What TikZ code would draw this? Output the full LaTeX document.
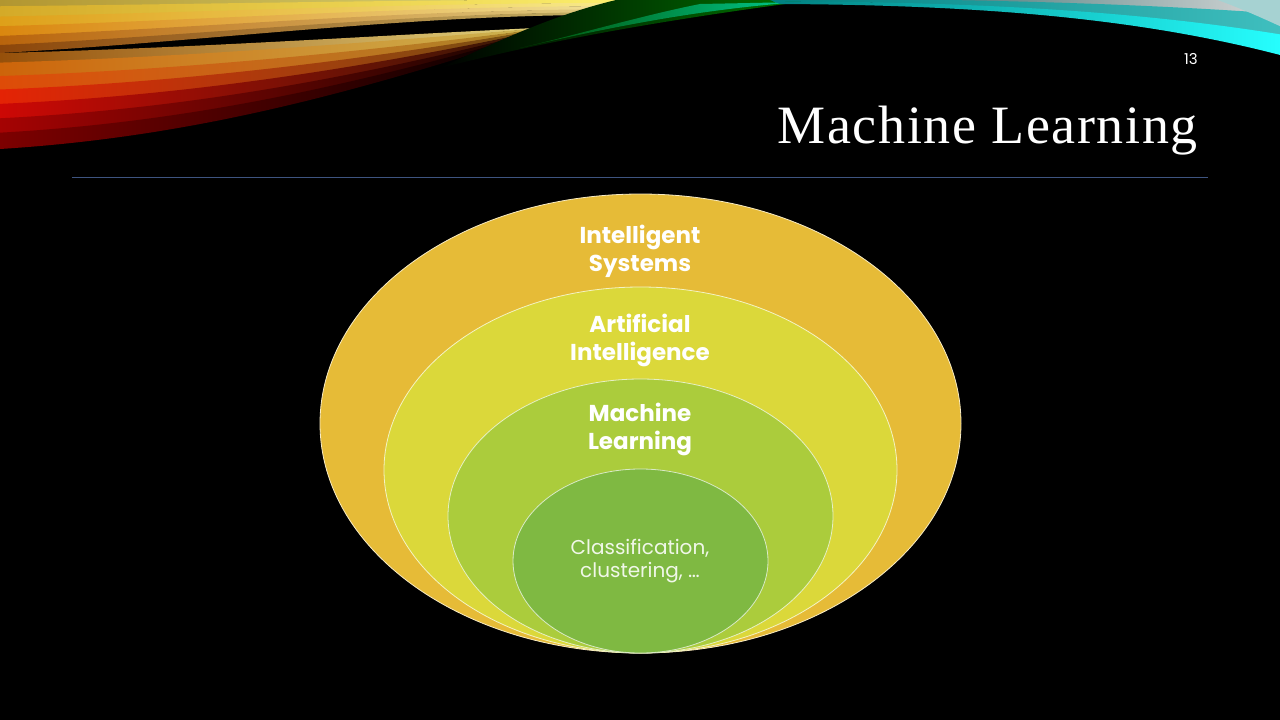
\documentclass[tikz,border=0pt]{standalone}
\usepackage{fontspec}
\usetikzlibrary{calc,shapes.geometric}
\setmainfont{Liberation Serif}
\newfontfamily\labelfont{Poppins}
\newfontfamily\titlefont[LetterSpace=3]{Liberation Serif}
\definecolor{ringA}{RGB}{230,187,55}
\definecolor{ringB}{RGB}{219,216,58}
\definecolor{ringC}{RGB}{171,204,60}
\definecolor{ringD}{RGB}{127,185,66}
\definecolor{ruleblue}{RGB}{62,84,128}
\tikzset{
  ring/.style={ellipse,draw=#1,line width=0.8pt,inner sep=0pt,outer sep=0pt},
  ringlabel/.style={text=white,align=center,font=\labelfont\bfseries\fontsize{23}{28}\selectfont},
  innerlabel/.style={text=white!88!ringD,align=center,font=\labelfont\fontsize{20}{23}\selectfont},
}
% One colour band between two Bezier edges: it is cut into strips, each with a left-to-right shading.
\newcommand{\swoosh}[2]{%
  \foreach \s/\e/\cl/\cm/\cr in {#2}{%
    \shade[left color=\cl,middle color=\cm,right color=\cr]
      ($(#1ta)!\s!(#1ba)$) .. controls ($(#1tb)!\s!(#1bb)$) and ($(#1tc)!\s!(#1bc)$) .. ($(#1td)!\s!(#1bd)$)
      -- ($(#1td)!\e!(#1bd)$) .. controls ($(#1tc)!\e!(#1bc)$) and ($(#1tb)!\e!(#1bb)$) .. ($(#1ta)!\e!(#1ba)$) -- cycle;
  }%
}
\newcommand{\edges}[9]{%
  \coordinate (#1ta) at #2; \coordinate (#1tb) at #3; \coordinate (#1tc) at #4; \coordinate (#1td) at #5;
  \coordinate (#1ba) at #6; \coordinate (#1bb) at #7; \coordinate (#1bc) at #8; \coordinate (#1bd) at #9;
}
\definecolor{oA}{RGB}{178,150,48}\definecolor{oB}{RGB}{212,170,40}\definecolor{oC}{RGB}{222,160,25}\definecolor{oD}{RGB}{218,135,15}\definecolor{oE}{RGB}{185,100,12}\definecolor{oF}{RGB}{140,70,10}
\definecolor{pA}{RGB}{205,190,70}\definecolor{pB}{RGB}{238,215,85}\definecolor{pC}{RGB}{235,195,70}\definecolor{pD}{RGB}{228,170,45}\definecolor{pE}{RGB}{215,145,30}\definecolor{pF}{RGB}{190,120,25}
\definecolor{qA}{RGB}{225,225,130}\definecolor{qB}{RGB}{252,240,110}\definecolor{qC}{RGB}{248,235,140}\definecolor{qD}{RGB}{240,225,150}\definecolor{qE}{RGB}{225,205,130}\definecolor{qF}{RGB}{195,175,100}
\definecolor{rA}{RGB}{150,80,10}\definecolor{rB}{RGB}{205,100,10}\definecolor{rC}{RGB}{222,75,8}\definecolor{rD}{RGB}{228,35,5}\definecolor{rE}{RGB}{205,8,5}\definecolor{rF}{RGB}{165,3,3}\definecolor{rG}{RGB}{125,0,0}
\definecolor{sA}{RGB}{230,140,25}\definecolor{sB}{RGB}{225,120,15}\definecolor{sC}{RGB}{222,85,8}\definecolor{sD}{RGB}{205,45,5}\definecolor{sE}{RGB}{165,10,3}\definecolor{sF}{RGB}{120,3,3}\definecolor{sG}{RGB}{50,0,0}
\definecolor{uA}{RGB}{228,215,130}\definecolor{uB}{RGB}{205,185,85}\definecolor{uC}{RGB}{170,140,45}\definecolor{uD}{RGB}{110,85,20}\definecolor{uE}{RGB}{45,25,5}\definecolor{uF}{RGB}{15,5,0}\definecolor{uG}{RGB}{0,0,0}
\begin{document}
\begin{tikzpicture}[x=1pt,y=-1pt]
\useasboundingbox (0,0) rectangle (1280,720);
\fill[black] (0,0) rectangle (1280,720);
\begin{scope}
\clip (0,0) rectangle (1280,720);
% Upper gold sweep
\edges{u}{(0,-4)}{(200,-4)}{(400,-4)}{(640,-4)}{(0,53)}{(200,42)}{(400,16)}{(590,15)}
\swoosh{u}{0/.2/oA/pA/qA,.18/.38/oB/pB/qB,.36/.55/oC/pC/qC,.53/.72/oD/pD/qD,.7/.88/oE/pE/qE,.86/1/oF/pF/qF}
% Lower red sweep
\edges{l}{(0,53)}{(200,48)}{(400,34)}{(557,27)}{(0,149)}{(190,137)}{(350,95)}{(557,27)}
\swoosh{l}{0/.12/rA/sA/uA,.1/.26/rB/sB/uB,.24/.4/rC/sC/uC,.38/.55/rD/sD/uD,.53/.7/rE/sE/uE,.68/.85/rF/sF/uF,.83/1/rG/sG/uG}
% Green sweep running into the cyan one
\edges{g}{(440,68)}{(500,40)}{(560,12)}{(625,-2)}{(440,68)}{(520,48)}{(620,26)}{(800,2)}
\shade[left color=black,right color=green!45!black]
  (gta) .. controls (gtb) and (gtc) .. (gtd) -- (800,-2) -- (gbd) .. controls (gbc) and (gbb) .. (gba) -- cycle;
\shade[left color=green!30!black,middle color=green!60!black,right color=cyan!70!green!80!black]
  (520,48) .. controls (580,34) and (640,16) .. (700,4) -- (800,2) .. controls (720,8) and (640,20) .. (520,48) -- cycle;
% Cyan sweep along the top right corner
\edges{c}{(760,-4)}{(950,-4)}{(1120,-4)}{(1284,-4)}{(780,4)}{(980,5)}{(1140,18)}{(1284,56)}
\swoosh{c}{0/.35/teal!60!black/white!75!cyan/white!70!gray,.3/.7/teal/white!50!cyan/cyan!50!gray,.65/1/teal/cyan!75!white/cyan!85!white}
\fill[white!65!teal] (1212,-2) -- (1284,-2) -- (1284,28) .. controls (1258,16) and (1235,6) .. (1212,-2) -- cycle;
\end{scope}
% Slide header
\node[anchor=east,text=white,font=\labelfont\fontsize{15}{18}\selectfont,inner sep=0pt] (pagenum) at (1198,59) {13};
\node[anchor=base east,text=white,font=\titlefont\fontsize{54}{60}\selectfont,inner sep=0pt] (title) at (1198,143) {Machine Learning};
\coordinate (ruleL) at (72,177);
\coordinate (ruleR) at (1208,177);
\draw[ruleblue,line width=0.9pt] (ruleL) -- (ruleR);
% Nested ovals, all touching at the bottom
\node[ring=white!70!ringA,fill=ringA,minimum width=641pt,minimum height=459pt] (systems) at (640.5,423.5) {};
\node[ring=white!70!ringB,fill=ringB,minimum width=513pt,minimum height=366pt] (ai) at (640.5,470) {};
\node[ring=white!70!ringC,fill=ringC,minimum width=385pt,minimum height=274pt] (ml) at (640.5,516) {};
\node[ring=white!70!ringD,fill=ringD,minimum width=255pt,minimum height=184pt] (tasks) at (640.5,561) {};
\node[ringlabel] (systemsT) at (640,251) {Intelligent\\Systems};
\node[ringlabel] (aiT) at (640,340) {Artificial\\Intelligence};
\node[ringlabel] (mlT) at (640,429) {Machine\\Learning};
\node[innerlabel] (tasksT) at (640,561) {Classification,\\clustering, \dots};
\end{tikzpicture}
\end{document}
